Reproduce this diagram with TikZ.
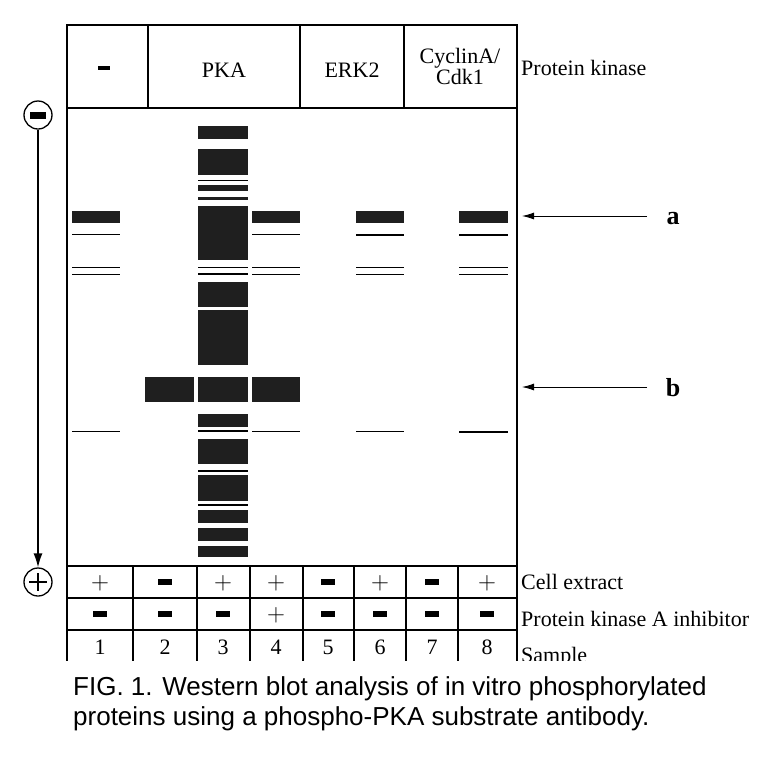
\documentclass[tikz,border=0pt]{standalone}
\usetikzlibrary{arrows.meta}
\usepackage{fontspec}
\setmainfont{Liberation Serif}
\newfontfamily\capf{Liberation Sans}
\newcommand{\mybar}{\rule[2pt]{14pt}{6pt}}
\newcommand{\myplus}{\fontsize{30}{30}\selectfont$+$}
\begin{document}
\begin{tikzpicture}[x=1pt,y=-1pt,
  frame/.style={line width=2.6pt},
  band/.style={fill=black!88},
  lbl/.style={anchor=west,font=\fontsize{22}{22}\selectfont,inner sep=0},
  cell/.style={inner sep=0},
  num/.style={font=\fontsize{22}{22}\selectfont,inner sep=0},
  arr/.style={-{Latex[length=12pt,width=7pt]},line width=0.9pt}]
\useasboundingbox (0,0) rectangle (783,782);
\fill[white] (0,0) rectangle (783,782);
\begin{scope}
\clip (0,0) rectangle (783,660);
% frame
\draw[frame] (67,25) rectangle (517,700);
\foreach \y in {108,566,598,630} \draw[frame] (67,\y) -- (517,\y);
\foreach \x in {148,300,404} \draw[frame] (\x,25) -- (\x,108);
\foreach \x in {133,197,250,303,354,406,458} \draw[frame] (\x,566) -- (\x,700);
% header
\node[cell] (h1) at (104,68) {\rule{12pt}{4pt}};
\node[num] (h2) at (224,70) {PKA};
\node[num] (h3) at (352,70) {ERK2};
\node[num,align=center] (h4) at (460,66) {CyclinA/\\[-1pt]Cdk1};
\node[lbl] (l0) at (521,68) {Protein kinase};
% rows
\foreach \x in {100,223,276,380,487} \node[cell] at (\x,583) {\myplus};
\foreach \x in {165,328,432} \node[cell] at (\x,583) {\mybar};
\node[cell] at (276,615) {\myplus};
\foreach \x in {100,165,223,328,380,432,487} \node[cell] at (\x,615) {\mybar};
\foreach \x [count=\i] in {100,165,223,276,328,380,432,487}
  \node[num] (s\i) at (\x,647) {\i};
\node[lbl] (l1) at (521,582) {Cell extract};
\node[lbl] (l2) at (521,619) {Protein kinase A inhibitor};
\node[lbl] (l3) at (521,657) {Sample};
\end{scope}
% lane 3
\foreach \a/\b in {126/139,149/175,185/191,197/200,206/260,282/307,310/365,377/402,414/427,439/464,475/501,510/523,528/541,546/557}
  \fill[band] (198,\a) rectangle (248,\b);
\foreach \a in {180.5,267.5,274,431,471,505}
  \draw[line width=1.3pt] (198,\a) -- (248,\a);
% lanes 1,4,6,8
\foreach \l/\r in {72/120,252/300,356/404,459/508}{
  \fill[band] (\l,211) rectangle (\r,223);
  \draw[line width=0.9pt] (\l,267.5) -- (\r,267.5);
  \draw[line width=0.9pt] (\l,274) -- (\r,274);}
\foreach \l/\r in {72/120,252/300}{
  \draw[line width=0.8pt] (\l,234) -- (\r,234);
  \draw[line width=0.8pt] (\l,431) -- (\r,431);}
\draw[line width=1.6pt] (356,235) -- (404,235);
\draw[line width=0.8pt] (356,431) -- (404,431);
\draw[line width=1.6pt] (459,235) -- (508,235);
\draw[line width=2.4pt] (459,432) -- (508,432);
% band b
\foreach \l/\r in {145/194,252/300} \fill[band] (\l,377) rectangle (\r,402);
% a, b arrows
\node[num,font=\bfseries\fontsize{26}{26}\selectfont] (a) at (673,219) {a};
\node[num,font=\bfseries\fontsize{26}{26}\selectfont] (b) at (673,388) {b};
\coordinate (ae) at (522,216); \coordinate (be) at (522,387);
\draw[arr] (647,216) -- (ae);
\draw[arr] (647,387) -- (be);
% electrophoresis
\node[circle,draw,line width=1.3pt,minimum size=28pt,inner sep=0] (m) at (38,115) {};
\fill (30,112) rectangle (46,119);
\node[circle,draw,line width=1.3pt,minimum size=28pt,inner sep=0] (p) at (38,582) {};
\draw[line width=1.2pt] (29,582) -- (47,582) (38,573) -- (38,591);
\draw[-{Latex[length=14pt,width=9pt]},line width=1.3pt] (m) -- (p);
% caption
\node[anchor=west,inner sep=0,font=\capf\fontsize{26}{26}\selectfont] (c1) at (73,689) {FIG. 1. Western blot analysis of in vitro phosphorylated};
\node[anchor=west,inner sep=0,font=\capf\fontsize{26}{26}\selectfont] (c2) at (73,719) {proteins using a phospho-PKA substrate antibody.};
\end{tikzpicture}
\end{document}
